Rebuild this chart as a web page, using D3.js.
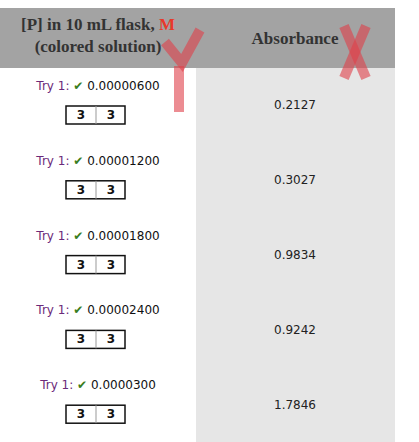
<!DOCTYPE html>
<html><head><meta charset="utf-8">
<script src="https://cdn.jsdelivr.net/npm/d3@7"></script>
<style>body{margin:0;background:#fff}</style>
</head><body>
<div id="chart"></div>
<script>
// Dane táblázat
const tries = ["Try 1:", "Try 1:", "Try 1:", "Try 1:", "Try 1:"];
const concentrations = ["0.00000600", "0.00001200", "0.00001800", "0.00002400", "0.0000300"];
const absorbances = ["0.2127", "0.3027", "0.9834", "0.9242", "1.7846"];
const sigFigs = [[3, 3], [3, 3], [3, 3], [3, 3], [3, 3]];

const w = 419, h = 442;
const svg = d3.select("#chart").append("svg").attr("width", w).attr("height", h);

const y = d3.scaleLinear().domain([0, 5]).range([68, 442]);
const rowH = y(1) - y(0);

// háttér
svg.append("rect").attr("x", 196).attr("y", 68).attr("width", 199).attr("height", h - 68).attr("fill", "#e6e6e6");
svg.append("rect").attr("x", 0).attr("y", 8).attr("width", 395).attr("height", 60).attr("fill", "#a3a3a3");

const hdr = svg.append("g").style("font-family", "Liberation Serif, serif").style("font-weight", "bold")
    .style("font-size", "17px").attr("fill", "#333");
const t1 = hdr.append("text").attr("x", 98).attr("y", 30).attr("text-anchor", "middle");
t1.append("tspan").text("[P] in 10 mL flask, ");
t1.append("tspan").attr("fill", "#e8392a").text("M");
hdr.append("text").attr("x", 98).attr("y", 52).attr("text-anchor", "middle").text("(colored solution)");
hdr.append("text").attr("x", 295).attr("y", 44).attr("text-anchor", "middle").text("Absorbance");

const rows = svg.selectAll("g.row").data(concentrations).enter().append("g")
    .attr("class", "row").attr("transform", (d, i) => `translate(0,${y(i)})`)
    .style("font-family", "DejaVu Sans, sans-serif").style("font-size", "12px");

const lbl = rows.append("text").attr("x", 98).attr("y", 22).attr("text-anchor", "middle");
lbl.append("tspan").attr("fill", "#6b2a7a").text((d, i) => tries[i] + " ");
lbl.append("tspan").attr("fill", "#3a7d1e").text("✔ ");
lbl.append("tspan").attr("fill", "#111").text(d => d);

rows.append("text").attr("x", 295).attr("y", rowH / 2 + 4).attr("text-anchor", "middle")
    .attr("fill", "#222").text((d, i) => absorbances[i]);

const box = rows.append("g").attr("transform", "translate(66,38)");
box.append("rect").attr("width", 59).attr("height", 18).attr("fill", "#fff")
    .attr("stroke", "#111").attr("stroke-width", 1.5);
box.append("line").attr("x1", 30).attr("x2", 30).attr("y1", 0).attr("y2", 18).attr("stroke", "#999");
box.selectAll("text").data((d, i) => sigFigs[i]).enter().append("text")
    .attr("x", (d, j) => 15 + j * 30).attr("y", 13).attr("text-anchor", "middle")
    .style("font-weight", "bold").attr("fill", "#111").text(d => d);

// piros jelek
const marks = svg.append("g").attr("stroke", "#e0404a").attr("stroke-opacity", 0.6)
    .attr("stroke-width", 10).attr("fill", "none").attr("stroke-linecap", "butt");
marks.append("path").attr("d", "M165,42 L182,63 L200,30");
marks.append("line").attr("x1", 179).attr("x2", 179).attr("y1", 66).attr("y2", 112);
marks.append("line").attr("x1", 344).attr("y1", 26).attr("x2", 366).attr("y2", 78);
marks.append("line").attr("x1", 366).attr("y1", 26).attr("x2", 344).attr("y2", 78);
</script>
</body></html>
